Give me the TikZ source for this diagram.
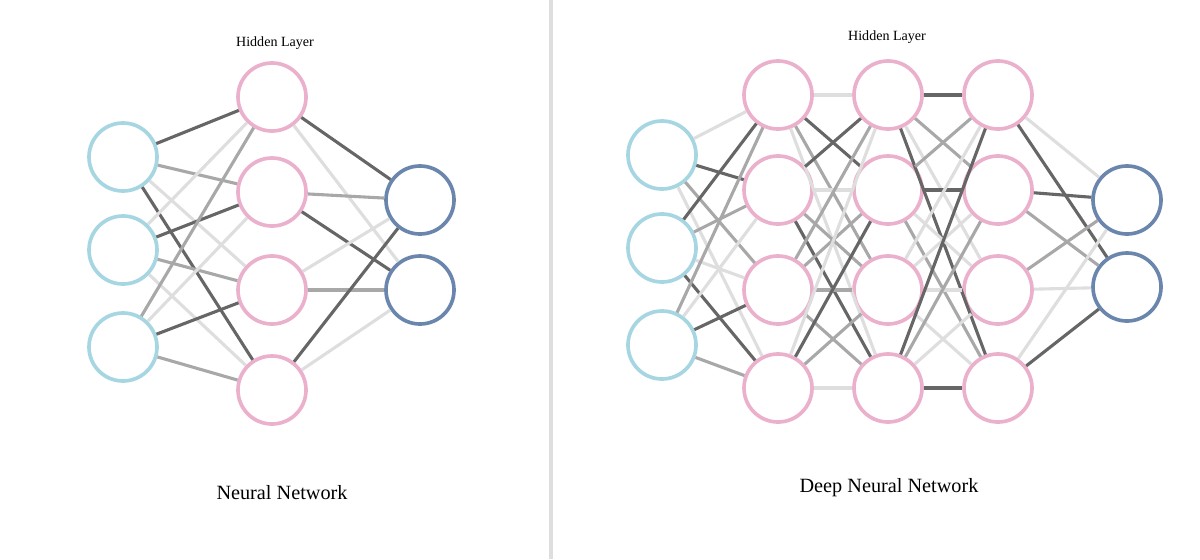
\documentclass[tikz,border=0pt]{standalone}
\usepackage{fontspec}
\setmainfont{Liberation Serif}
\definecolor{inblue}{HTML}{A6D6E2}
\definecolor{hidpink}{HTML}{EBB0CC}
\definecolor{outblue}{HTML}{6A86AD}
\definecolor{wdark}{HTML}{666666}
\definecolor{wmid}{HTML}{A8A8A8}
\definecolor{wlight}{HTML}{DEDEDE}
\tikzset{
  neuron/.style = {circle, minimum size=1.7cm, inner sep=0pt, line width=2.6pt},
  inp/.style = {neuron, draw=inblue},
  hid/.style = {neuron, draw=hidpink},
  outp/.style = {neuron, draw=outblue},
  wt0/.style = {draw=wdark, line width=2.2pt},
  wt1/.style = {draw=wmid, line width=2.2pt},
  wt2/.style = {draw=wlight, line width=2.2pt},
  title/.style = {font=\Large}
}
\begin{document}
\begin{tikzpicture}[x=0.025cm, y=-0.025cm]
\useasboundingbox (0,0) rectangle (1200,559);
\fill[white] (0,0) rectangle (1200,559);
\draw[wlight, line width=2.5pt] (551,0) -- (551,559);
% shallow network
\foreach \y [count=\i] in {157,250,347} \node[inp] (a\i) at (123,\y) {};
\foreach \y [count=\i] in {97,192,290,390} \node[hid] (h\i) at (272,\y) {};
\foreach \y [count=\i] in {200,290} \node[outp] (o\i) at (420,\y) {};
\foreach \i in {1,2,3} \foreach \j in {1,...,4} {
  \pgfmathtruncatemacro{\w}{mod(\i*2+\j,3)}
  \draw[wt\w] (a\i) -- (h\j);
}
\foreach \i in {1,...,4} \foreach \j in {1,2} {
  \pgfmathtruncatemacro{\w}{mod(\i+\j*2,3)}
  \draw[wt\w] (h\i) -- (o\j);
}
\node at (275,43) {Hidden Layer};
\node[title] at (282,493) {Neural Network};
% deep network
\foreach \y [count=\i] in {155,248,345} \node[inp] (b\i) at (662,\y) {};
\foreach \x [count=\k] in {778,888,998}
  \foreach \y [count=\i] in {95,190,290,388} \node[hid] (d\k\i) at (\x,\y) {};
\foreach \y [count=\i] in {200,287} \node[outp] (p\i) at (1127,\y) {};
\foreach \i in {1,2,3} \foreach \j in {1,...,4} {
  \pgfmathtruncatemacro{\w}{mod(\i+\j,3)}
  \draw[wt\w] (b\i) -- (d1\j);
}
\foreach \k/\n in {1/2,2/3} \foreach \i in {1,...,4} \foreach \j in {1,...,4} {
  \pgfmathtruncatemacro{\w}{mod(\i*\j+\k,3)}
  \draw[wt\w] (d\k\i) -- (d\n\j);
}
\foreach \i in {1,...,4} \foreach \j in {1,2} {
  \pgfmathtruncatemacro{\w}{mod(\i+\j,3)}
  \draw[wt\w] (d3\i) -- (p\j);
}
\node at (887,37) {Hidden Layer};
\node[title] at (889,488) {Deep Neural Network};
\end{tikzpicture}
\end{document}
